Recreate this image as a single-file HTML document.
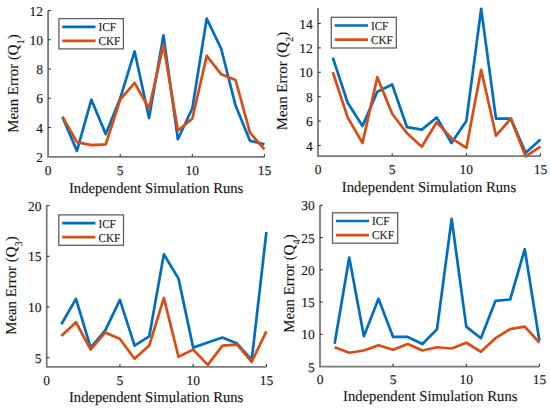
<!DOCTYPE html>
<html><head><meta charset="utf-8"><style>
html,body{margin:0;padding:0;background:#fff;overflow:hidden;}
svg{display:block;}
text{font-family:"Liberation Serif", serif;fill:#111;stroke:#111;stroke-width:0.1px;text-rendering:geometricPrecision;}
</style></head><body>
<svg width="550" height="408" viewBox="0 0 550 408">
<rect width="550" height="408" fill="#fff"/>
<polyline points="62.52,117.30 76.94,150.95 91.36,99.74 105.78,134.12 120.20,98.28 134.62,51.46 149.04,118.03 163.46,35.37 177.88,139.24 192.30,108.52 206.72,18.55 221.14,48.54 235.56,105.59 249.98,140.71 264.40,144.36" fill="none" stroke="#006EBD" stroke-width="2.7" stroke-linejoin="round"/>
<polyline points="62.52,116.57 76.94,142.17 91.36,145.10 105.78,144.36 120.20,99.74 134.62,82.92 149.04,108.52 163.46,44.88 177.88,130.47 192.30,118.76 206.72,55.85 221.14,74.14 235.56,79.99 249.98,132.66 264.40,149.49" fill="none" stroke="#D64D15" stroke-width="2.7" stroke-linejoin="round"/>
<path d="M48.1,10.5 L48.1,156.8 L264.4,156.8" fill="none" stroke="#7a7a7a" stroke-width="1.8"/>
<text x="48.10" y="174.55" text-anchor="middle" font-size="13.5">0</text>
<line x1="120.20" y1="156.8" x2="120.20" y2="154.00" stroke="#333" stroke-width="1.1"/>
<text x="120.20" y="174.55" text-anchor="middle" font-size="13.5">5</text>
<line x1="192.30" y1="156.8" x2="192.30" y2="154.00" stroke="#333" stroke-width="1.1"/>
<text x="192.30" y="174.55" text-anchor="middle" font-size="13.5">10</text>
<line x1="264.40" y1="156.8" x2="264.40" y2="154.00" stroke="#333" stroke-width="1.1"/>
<text x="264.40" y="174.55" text-anchor="middle" font-size="13.5">15</text>
<text x="42.90" y="161.85" text-anchor="end" font-size="13.5">2</text>
<line x1="48.1" y1="127.54" x2="50.90" y2="127.54" stroke="#333" stroke-width="1.1"/>
<text x="42.90" y="132.59" text-anchor="end" font-size="13.5">4</text>
<line x1="48.1" y1="98.28" x2="50.90" y2="98.28" stroke="#333" stroke-width="1.1"/>
<text x="42.90" y="103.33" text-anchor="end" font-size="13.5">6</text>
<line x1="48.1" y1="69.02" x2="50.90" y2="69.02" stroke="#333" stroke-width="1.1"/>
<text x="42.90" y="74.07" text-anchor="end" font-size="13.5">8</text>
<line x1="48.1" y1="39.76" x2="50.90" y2="39.76" stroke="#333" stroke-width="1.1"/>
<text x="42.90" y="44.81" text-anchor="end" font-size="13.5">10</text>
<line x1="48.1" y1="10.50" x2="50.90" y2="10.50" stroke="#333" stroke-width="1.1"/>
<text x="42.90" y="15.55" text-anchor="end" font-size="13.5">12</text>
<text transform="translate(156.10,192.60) scale(0.978,1)" text-anchor="middle" font-size="15">Independent Simulation Runs</text>
<text transform="translate(17.9,131.9) rotate(-90) scale(0.99,1)" x="-0.8" y="0" font-size="15">Mean Error (Q<tspan font-size="10.5" dy="5.8">1</tspan><tspan dy="-5.8">)</tspan></text>
<rect x="58.9" y="18.6" width="64.50" height="30.30" fill="#fff" stroke="#5a5a5a" stroke-width="1.25"/>
<line x1="62.30" y1="26.80" x2="95.50" y2="26.80" stroke="#006EBD" stroke-width="2.7"/>
<line x1="62.30" y1="40.90" x2="95.50" y2="40.90" stroke="#D64D15" stroke-width="2.7"/>
<text transform="translate(98.50,31.20) scale(0.92,1)" font-size="12.2">ICF</text>
<text transform="translate(98.50,45.20) scale(0.92,1)" font-size="12.2">CKF</text>
<polyline points="332.83,57.65 347.67,102.79 362.50,125.97 377.33,91.81 392.17,84.49 407.00,127.19 421.83,129.63 436.67,117.43 451.50,143.05 466.33,121.09 481.17,8.85 496.00,118.65 510.83,118.65 525.67,152.81 540.50,139.39" fill="none" stroke="#006EBD" stroke-width="2.7" stroke-linejoin="round"/>
<polyline points="332.83,72.29 347.67,117.43 362.50,143.05 377.33,77.17 392.17,113.77 407.00,133.29 421.83,146.71 436.67,122.31 451.50,138.17 466.33,147.93 481.17,69.85 496.00,135.73 510.83,118.65 525.67,156.47 540.50,146.71" fill="none" stroke="#D64D15" stroke-width="2.7" stroke-linejoin="round"/>
<path d="M318.0,8.0 L318.0,156.1 L540.5,156.1" fill="none" stroke="#7a7a7a" stroke-width="1.8"/>
<text x="318.00" y="173.85" text-anchor="middle" font-size="13.5">0</text>
<line x1="392.17" y1="156.1" x2="392.17" y2="153.30" stroke="#333" stroke-width="1.1"/>
<text x="392.17" y="173.85" text-anchor="middle" font-size="13.5">5</text>
<line x1="466.33" y1="156.1" x2="466.33" y2="153.30" stroke="#333" stroke-width="1.1"/>
<text x="466.33" y="173.85" text-anchor="middle" font-size="13.5">10</text>
<line x1="540.50" y1="156.1" x2="540.50" y2="153.30" stroke="#333" stroke-width="1.1"/>
<text x="540.50" y="173.85" text-anchor="middle" font-size="13.5">15</text>
<line x1="318.0" y1="145.49" x2="320.80" y2="145.49" stroke="#333" stroke-width="1.1"/>
<text x="312.80" y="150.54" text-anchor="end" font-size="13.5">4</text>
<line x1="318.0" y1="121.09" x2="320.80" y2="121.09" stroke="#333" stroke-width="1.1"/>
<text x="312.80" y="126.14" text-anchor="end" font-size="13.5">6</text>
<line x1="318.0" y1="96.69" x2="320.80" y2="96.69" stroke="#333" stroke-width="1.1"/>
<text x="312.80" y="101.74" text-anchor="end" font-size="13.5">8</text>
<line x1="318.0" y1="72.29" x2="320.80" y2="72.29" stroke="#333" stroke-width="1.1"/>
<text x="312.80" y="77.34" text-anchor="end" font-size="13.5">10</text>
<line x1="318.0" y1="47.89" x2="320.80" y2="47.89" stroke="#333" stroke-width="1.1"/>
<text x="312.80" y="52.94" text-anchor="end" font-size="13.5">12</text>
<line x1="318.0" y1="23.49" x2="320.80" y2="23.49" stroke="#333" stroke-width="1.1"/>
<text x="312.80" y="28.54" text-anchor="end" font-size="13.5">14</text>
<text transform="translate(428.95,192.30) scale(0.978,1)" text-anchor="middle" font-size="15">Independent Simulation Runs</text>
<text transform="translate(287.3,129.4) rotate(-90) scale(0.99,1)" x="-0.8" y="0" font-size="15">Mean Error (Q<tspan font-size="10.5" dy="5.8">2</tspan><tspan dy="-5.8">)</tspan></text>
<rect x="331.3" y="17.3" width="65.00" height="30.70" fill="#fff" stroke="#5a5a5a" stroke-width="1.25"/>
<line x1="334.70" y1="25.50" x2="367.90" y2="25.50" stroke="#006EBD" stroke-width="2.7"/>
<line x1="334.70" y1="39.60" x2="367.90" y2="39.60" stroke="#D64D15" stroke-width="2.7"/>
<text transform="translate(370.90,29.90) scale(0.92,1)" font-size="12.2">ICF</text>
<text transform="translate(370.90,43.90) scale(0.92,1)" font-size="12.2">CKF</text>
<polyline points="61.35,324.29 75.99,298.93 90.64,347.63 105.29,330.38 119.93,299.95 134.58,345.60 149.23,336.47 163.87,254.29 178.52,278.64 193.17,347.63 207.81,342.55 222.46,337.48 237.11,343.57 251.75,359.80 266.40,231.98" fill="none" stroke="#006EBD" stroke-width="2.7" stroke-linejoin="round"/>
<polyline points="61.35,335.96 75.99,322.26 90.64,349.65 105.29,332.41 119.93,339.00 134.58,358.78 149.23,345.60 163.87,297.92 178.52,356.76 193.17,349.65 207.81,364.87 222.46,345.60 237.11,344.58 251.75,361.83 266.40,331.39" fill="none" stroke="#D64D15" stroke-width="2.7" stroke-linejoin="round"/>
<path d="M46.7,205.6 L46.7,366.9 L266.4,366.9" fill="none" stroke="#7a7a7a" stroke-width="1.8"/>
<text x="46.70" y="384.65" text-anchor="middle" font-size="13.5">0</text>
<line x1="119.93" y1="366.9" x2="119.93" y2="364.10" stroke="#333" stroke-width="1.1"/>
<text x="119.93" y="384.65" text-anchor="middle" font-size="13.5">5</text>
<line x1="193.17" y1="366.9" x2="193.17" y2="364.10" stroke="#333" stroke-width="1.1"/>
<text x="193.17" y="384.65" text-anchor="middle" font-size="13.5">10</text>
<line x1="266.40" y1="366.9" x2="266.40" y2="364.10" stroke="#333" stroke-width="1.1"/>
<text x="266.40" y="384.65" text-anchor="middle" font-size="13.5">15</text>
<line x1="46.7" y1="357.77" x2="49.50" y2="357.77" stroke="#333" stroke-width="1.1"/>
<text x="41.50" y="362.82" text-anchor="end" font-size="13.5">5</text>
<line x1="46.7" y1="307.05" x2="49.50" y2="307.05" stroke="#333" stroke-width="1.1"/>
<text x="41.50" y="312.10" text-anchor="end" font-size="13.5">10</text>
<line x1="46.7" y1="256.32" x2="49.50" y2="256.32" stroke="#333" stroke-width="1.1"/>
<text x="41.50" y="261.37" text-anchor="end" font-size="13.5">15</text>
<line x1="46.7" y1="205.60" x2="49.50" y2="205.60" stroke="#333" stroke-width="1.1"/>
<text x="41.50" y="210.65" text-anchor="end" font-size="13.5">20</text>
<text transform="translate(156.10,402.10) scale(0.978,1)" text-anchor="middle" font-size="15">Independent Simulation Runs</text>
<text transform="translate(16.2,334.0) rotate(-90) scale(0.99,1)" x="-0.8" y="0" font-size="15">Mean Error (Q<tspan font-size="10.5" dy="5.8">3</tspan><tspan dy="-5.8">)</tspan></text>
<rect x="58.8" y="214.9" width="64.70" height="30.40" fill="#fff" stroke="#5a5a5a" stroke-width="1.25"/>
<line x1="62.20" y1="223.10" x2="95.40" y2="223.10" stroke="#006EBD" stroke-width="2.7"/>
<line x1="62.20" y1="237.20" x2="95.40" y2="237.20" stroke="#D64D15" stroke-width="2.7"/>
<text transform="translate(98.40,227.50) scale(0.92,1)" font-size="12.2">ICF</text>
<text transform="translate(98.40,241.50) scale(0.92,1)" font-size="12.2">CKF</text>
<polyline points="334.63,343.70 349.25,257.56 363.88,336.28 378.51,298.85 393.13,336.92 407.76,336.92 422.39,344.02 437.01,329.18 451.64,218.85 466.27,326.60 480.89,338.21 495.52,300.79 510.15,299.50 524.77,249.17 539.40,340.79" fill="none" stroke="#006EBD" stroke-width="2.7" stroke-linejoin="round"/>
<polyline points="334.63,347.24 349.25,352.73 363.88,350.47 378.51,345.31 393.13,349.82 407.76,344.02 422.39,350.47 437.01,347.24 451.64,348.53 466.27,342.73 480.89,351.76 495.52,338.21 510.15,329.18 524.77,326.60 539.40,342.73" fill="none" stroke="#D64D15" stroke-width="2.7" stroke-linejoin="round"/>
<path d="M320.0,205.3 L320.0,366.6 L539.4,366.6" fill="none" stroke="#7a7a7a" stroke-width="1.8"/>
<text x="320.00" y="384.35" text-anchor="middle" font-size="13.5">0</text>
<line x1="393.13" y1="366.6" x2="393.13" y2="363.80" stroke="#333" stroke-width="1.1"/>
<text x="393.13" y="384.35" text-anchor="middle" font-size="13.5">5</text>
<line x1="466.27" y1="366.6" x2="466.27" y2="363.80" stroke="#333" stroke-width="1.1"/>
<text x="466.27" y="384.35" text-anchor="middle" font-size="13.5">10</text>
<line x1="539.40" y1="366.6" x2="539.40" y2="363.80" stroke="#333" stroke-width="1.1"/>
<text x="539.40" y="384.35" text-anchor="middle" font-size="13.5">15</text>
<text x="314.80" y="371.65" text-anchor="end" font-size="13.5">5</text>
<line x1="320.0" y1="334.34" x2="322.80" y2="334.34" stroke="#333" stroke-width="1.1"/>
<text x="314.80" y="339.39" text-anchor="end" font-size="13.5">10</text>
<line x1="320.0" y1="302.08" x2="322.80" y2="302.08" stroke="#333" stroke-width="1.1"/>
<text x="314.80" y="307.13" text-anchor="end" font-size="13.5">15</text>
<line x1="320.0" y1="269.82" x2="322.80" y2="269.82" stroke="#333" stroke-width="1.1"/>
<text x="314.80" y="274.87" text-anchor="end" font-size="13.5">20</text>
<line x1="320.0" y1="237.56" x2="322.80" y2="237.56" stroke="#333" stroke-width="1.1"/>
<text x="314.80" y="242.61" text-anchor="end" font-size="13.5">25</text>
<line x1="320.0" y1="205.30" x2="322.80" y2="205.30" stroke="#333" stroke-width="1.1"/>
<text x="314.80" y="210.35" text-anchor="end" font-size="13.5">30</text>
<text transform="translate(430.25,401.20) scale(0.978,1)" text-anchor="middle" font-size="15">Independent Simulation Runs</text>
<text transform="translate(294.1,332.0) rotate(-90) scale(0.99,1)" x="-0.8" y="0" font-size="15">Mean Error (Q<tspan font-size="10.5" dy="5.8">4</tspan><tspan dy="-5.8">)</tspan></text>
<rect x="332.5" y="212.8" width="65.20" height="30.40" fill="#fff" stroke="#5a5a5a" stroke-width="1.25"/>
<line x1="335.90" y1="221.00" x2="369.10" y2="221.00" stroke="#006EBD" stroke-width="2.7"/>
<line x1="335.90" y1="235.10" x2="369.10" y2="235.10" stroke="#D64D15" stroke-width="2.7"/>
<text transform="translate(372.10,225.40) scale(0.92,1)" font-size="12.2">ICF</text>
<text transform="translate(372.10,239.40) scale(0.92,1)" font-size="12.2">CKF</text>
</svg>
</body></html>
